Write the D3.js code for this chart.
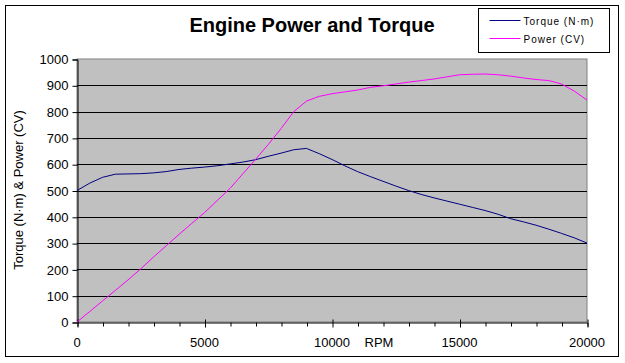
<!DOCTYPE html>
<html>
<head>
<meta charset="utf-8">
<script src="https://cdn.jsdelivr.net/npm/d3@7"></script>
<style>
  body { margin: 0; background: #fff; }
  svg text { font-family: Arial, "Liberation Sans", sans-serif; }
</style>
</head>
<body>
<svg id="chart"></svg>
<script>
// ── Data ────────────────────────────────────────────────────────────────────
const rpm = [0, 500, 1000, 1500, 2000, 2500, 3000, 3500, 4000, 4500, 5000,
  5500, 6000, 6500, 7000, 7500, 8000, 8500, 9000, 9500, 10000,
  10500, 11000, 11500, 12000, 12500, 13000, 13500, 14000, 14500, 15000,
  15500, 16000, 16500, 17000, 17500, 18000, 18500, 19000, 19500, 20000];

const torque = [500, 528, 550, 562, 563, 564, 567, 572, 580, 585, 589,
  594, 601, 608, 617, 630, 642, 655, 660, 640, 618,
  594, 572, 553, 535, 517, 500, 485, 472, 460, 448,
  436, 424, 410, 393, 381, 368, 353, 337, 320, 300];

const power = [0, 40, 80, 120, 160, 202, 247, 290, 333, 375, 416,
  462, 508, 563, 618, 675, 735, 800, 840, 858, 868,
  875, 882, 892, 898, 905, 912, 918, 924, 932, 940,
  942, 943, 940, 935, 928, 922, 918, 905, 878, 844];

const series = [
  { name: 'Torque (N·m)', values: torque, color: '#000080' },
  { name: 'Power (CV)',   values: power,  color: '#ff00ff' },
];

const xTicks = [0, 5000, 10000, 15000, 20000];

// ── Layout ──────────────────────────────────────────────────────────────────
const W = 625, H = 363;
const plot = { left: 77, right: 587, top: 59, bottom: 322 };

const svg = d3.select('#chart').attr('width', W).attr('height', H);

// outer chart frame
svg.append('rect')
  .attr('x', 5.5).attr('y', 5.5)
  .attr('width', 613).attr('height', 351)
  .attr('fill', '#fff').attr('stroke', '#000');

const x = d3.scaleLinear().domain([0, 20000]).range([plot.left, plot.right]);
const y = d3.scaleLinear().domain([0, 1000]).range([plot.bottom, plot.top]);

// plot background
svg.append('rect')
  .attr('x', plot.left).attr('y', plot.top)
  .attr('width', plot.right - plot.left).attr('height', plot.bottom - plot.top)
  .attr('fill', '#c0c0c0').attr('stroke', '#808080');

// horizontal gridlines
svg.append('g')
  .selectAll('line')
  .data(y.ticks(10).filter(d => d > 0 && d < 1000))
  .join('line')
    .attr('x1', plot.left).attr('x2', plot.right)
    .attr('y1', d => Math.round(y(d)) + 0.5).attr('y2', d => Math.round(y(d)) + 0.5)
    .attr('stroke', '#000');

// ── Axes ────────────────────────────────────────────────────────────────────
const yAxis = svg.append('g')
  .attr('transform', `translate(${plot.left + 0.5},0.5)`)
  .call(d3.axisLeft(y).ticks(10).tickSize(5).tickPadding(4).tickFormat(d3.format('d')));

// minor ticks every 1000 rpm, major ones (crossing the axis) every 5000
const xAxis = svg.append('g')
  .attr('transform', `translate(0.5,${plot.bottom + 0.5})`)
  .call(d3.axisBottom(x).tickValues(d3.range(0, 20001, 1000)).tickSize(4).tickFormat(''));

xAxis.selectAll('.tick').filter(d => d % 5000 === 0).select('line')
  .attr('y1', -3).attr('y2', 5);

svg.append('g')
  .selectAll('text')
  .data(xTicks)
  .join('text')
    .attr('x', d => x(d))
    .attr('y', 347)
    .attr('text-anchor', 'middle')
    .attr('font-size', 13)
    .attr('fill', '#000')
    .text(d => d);

[yAxis, xAxis].forEach(a => {
  a.select('.domain').attr('stroke', '#000');
  a.selectAll('.tick line').attr('stroke', '#000');
  a.selectAll('.tick text').attr('font-size', 13).attr('fill', '#000')
    .attr('font-family', 'Arial, "Liberation Sans", sans-serif');
});

svg.append('text')
  .attr('x', 379).attr('y', 347)
  .attr('text-anchor', 'middle')
  .attr('font-size', 13)
  .text('RPM');

svg.append('text')
  .attr('transform', 'translate(23,190) rotate(-90)')
  .attr('text-anchor', 'middle')
  .attr('font-size', 13)
  .text('Torque (N·m) & Power (CV)');

// ── Lines ───────────────────────────────────────────────────────────────────
const line = d3.line()
  .x((d, i) => x(rpm[i]))
  .y(d => y(d));

svg.append('g')
  .selectAll('path')
  .data(series)
  .join('path')
    .attr('d', d => line(d.values))
    .attr('fill', 'none')
    .attr('stroke', d => d.color)
    .attr('stroke-width', 1);

// ── Title ───────────────────────────────────────────────────────────────────
svg.append('text')
  .attr('x', 312).attr('y', 32)
  .attr('text-anchor', 'middle')
  .attr('font-size', 20)
  .attr('font-weight', 'bold')
  .text('Engine Power and Torque');

// ── Legend ──────────────────────────────────────────────────────────────────
const legend = svg.append('g').attr('transform', 'translate(478.5,8.5)');
legend.append('rect')
  .attr('width', 131).attr('height', 44)
  .attr('fill', '#fff').attr('stroke', '#000');

const item = legend.selectAll('g.item')
  .data(series)
  .join('g')
    .attr('class', 'item')
    .attr('transform', (d, i) => `translate(0,${12 + i * 18})`);

item.append('line')
  .attr('x1', 11).attr('x2', 42)
  .attr('stroke', d => d.color);

item.append('text')
  .attr('x', 45).attr('y', 4)
  .attr('font-size', 10)
  .attr('letter-spacing', 1)
  .text(d => d.name);
</script>
</body>
</html>
